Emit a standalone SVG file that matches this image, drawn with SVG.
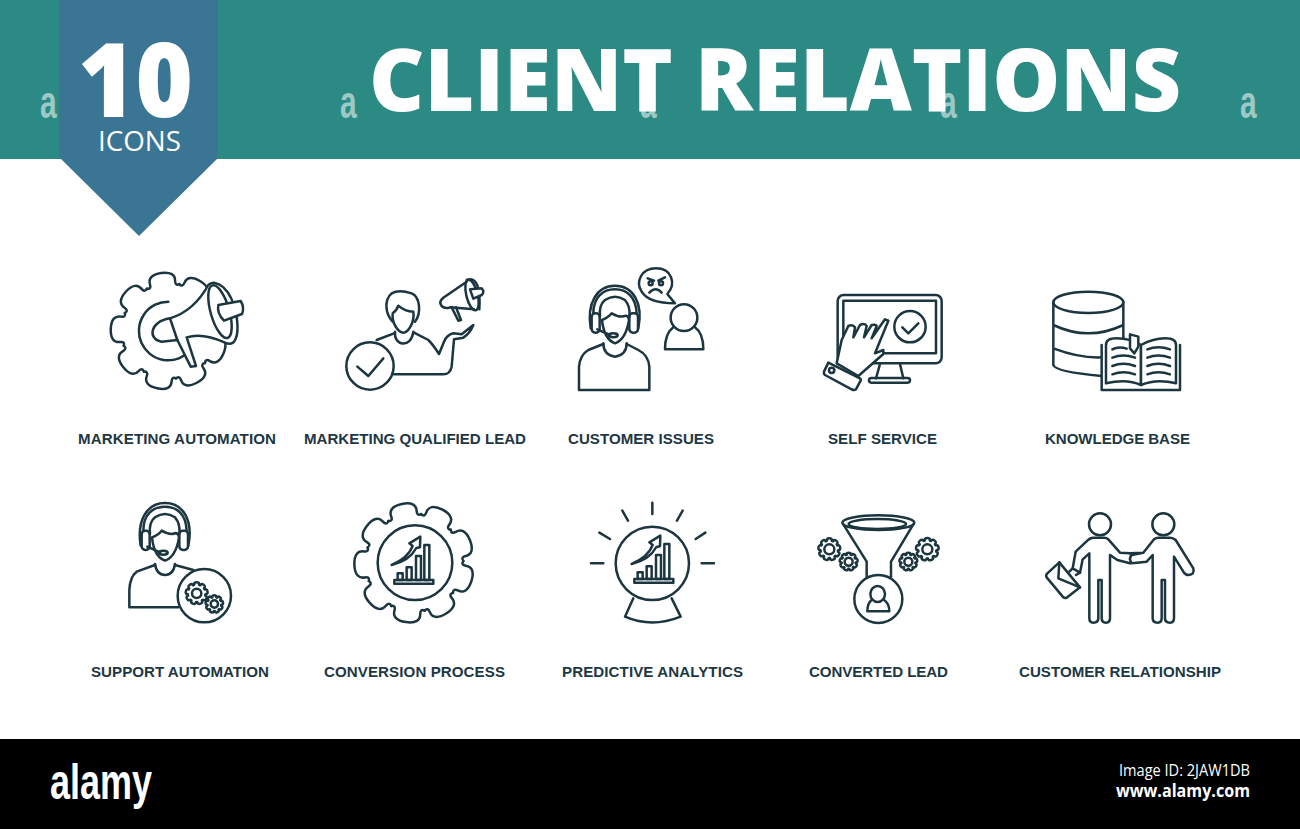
<svg xmlns="http://www.w3.org/2000/svg" xmlns:xlink="http://www.w3.org/1999/xlink" width="1300" height="829" viewBox="0 0 1300 829">
<style>
.i{fill:none;stroke:#1c3640;stroke-width:2.5;stroke-linecap:round;stroke-linejoin:round}
path,circle,ellipse,rect,line{vector-effect:non-scaling-stroke}
.w{fill:#fff}
.l{font:bold 15.1px "Liberation Sans",Arial,sans-serif;fill:#1d3743}
.h{font-family:"Open Sans",sans-serif;fill:#fff}
.m{font:bold 30px "Liberation Sans",sans-serif;fill:#9cc9c5}
</style>
<defs>
<path id="tooth" d="M-16.8,-46.1C-13.500,-45 -12.500,-47 -13,-50C-14,-56 -10,-60 0,-60C10,-60 14,-56 13,-50C12.500,-47 13.500,-45 16.800,-46.100"/>
<g id="gear">
<use href="#tooth"/><use href="#tooth" transform="rotate(40)"/><use href="#tooth" transform="rotate(80)"/><use href="#tooth" transform="rotate(120)"/><use href="#tooth" transform="rotate(160)"/><use href="#tooth" transform="rotate(200)"/><use href="#tooth" transform="rotate(240)"/><use href="#tooth" transform="rotate(280)"/><use href="#tooth" transform="rotate(320)"/>
</g>
<g id="chart">
<rect x="863" y="250" width="15" height="20"/><rect x="890" y="232" width="15" height="38"/><rect x="918" y="198" width="15" height="72"/><rect x="943" y="165" width="15" height="105"/>
<rect x="853" y="270" width="117" height="11"/>
<path d="M845,225C880,210 900,190 908,168L898,160L931,140L930,172L919,174C905,200 880,217 845,225Z"/>
</g>
<g id="agent">
<path d="M92,235C80,160 110,107 165,107C220,107 250,160 235,235"/>
<path d="M100,190C100,140 130,118 165,118C200,118 228,140 230,190"/>
<rect x="95" y="190" width="24" height="58" rx="11"/><rect x="208" y="190" width="26" height="58" rx="11"/>
<path d="M120,200Q116,165 135,150Q165,130 195,150Q212,170 208,200"/>
<path d="M126,210Q145,203 155,190Q180,205 198,197Q207,200 207,210Q198,268 165,280Q132,268 126,210Z"/>
<path d="M112,238L150,255"/><ellipse cx="160" cy="256" rx="13" ry="6"/>
</g>
</defs>
<rect width="1300" height="829" fill="#fff"/>
<g id="header">
<rect width="1300" height="159" fill="#2b8a84"/>
<text class="m" transform="translate(40 118) scale(1 1.55)">a</text>
<text class="m" transform="translate(340 118) scale(1 1.55)">a</text>
<text class="m" transform="translate(640 118) scale(1 1.55)">a</text>
<text class="m" transform="translate(940 118) scale(1 1.55)">a</text>
<text class="m" transform="translate(1240 118) scale(1 1.55)">a</text>
<text class="h" x="369" y="111" font-size="87" font-weight="800" textLength="812" lengthAdjust="spacingAndGlyphs">CLIENT RELATIONS</text>
</g>
<g id="badge">
<path d="M59,0H218V158L139,236L59,157Z" fill="#3a7594"/>
<text class="h" x="78" y="117" font-size="103" font-weight="800" textLength="115" lengthAdjust="spacingAndGlyphs">10</text>
<text class="h" x="98" y="151" font-size="27" textLength="83" lengthAdjust="spacingAndGlyphs">ICONS</text>
</g>

<g id="marketing-automation">
<g class="i" transform="translate(90 250) scale(.33333)">
<use href="#gear" transform="translate(238 243) scale(2.93) rotate(-8)"/>
<path d="M235,155A88,88 0 1 0 300,302"/>
<path class="w" d="M240,205C290,190 330,150 355,105C375,85 425,110 440,200C450,270 430,290 405,278C370,262 330,250 290,262L318,348L302,350L262,270L215,275C175,270 175,215 240,205Z"/>
<path d="M240,205L262,270"/>
<ellipse cx="390" cy="185" rx="28" ry="82" transform="rotate(-16 390 185)"/>
<path class="w" d="M385,165L452,153Q464,172 456,192L402,212Q380,190 385,165Z"/>
</g>
<text class="l" x="78" y="444" textLength="198">MARKETING AUTOMATION</text>
</g>

<g id="marketing-qualified-lead">
<g class="i" transform="translate(90 250) scale(.33333)">
<path d="M908,215C885,190 882,150 905,130C925,118 950,125 965,130C990,140 995,190 975,215"/>
<path d="M908,190Q920,182 925,167Q945,185 970,185C975,215 955,248 940,248C925,248 905,220 908,190Z"/>
<path d="M915,245C910,290 965,295 970,245"/>
<path d="M860,270L912,250M972,248L1015,270Q1030,285 1047,312L1062,275Q1070,255 1090,250L1115,253L1150,225Q1140,250 1120,263L1092,268L1085,350Q1080,373 1060,373L912,373"/>
<circle cx="840" cy="348" r="71"/>
<path d="M802,350L835,378L880,325"/>
<path d="M1130,95L1060,143Q1045,155 1055,168Q1065,178 1080,172L1152,178"/>
<path d="M1085,172L1105,212L1113,210L1098,172"/>
<ellipse cx="1146" cy="135" rx="17" ry="47" transform="rotate(-14 1146 135)"/>
<path d="M1130,90C1160,78 1172,115 1168,178"/>
<path class="w" d="M1140,118L1175,115Q1185,125 1175,135L1150,146Z"/>
</g>
<text class="l" x="304" y="444" textLength="222">MARKETING QUALIFIED LEAD</text>
</g>

<g id="customer-issues">
<g class="i" transform="translate(560 250) scale(.33333)">
<use href="#agent"/>
<path d="M130,282L85,300Q60,315 57,350L57,420L268,420L268,350Q265,315 235,300L200,282"/>
<path d="M130,280Q130,315 165,320Q200,315 200,280"/>
<path d="M345,160L322,132C350,100 335,55 288,55C245,55 225,95 245,125C260,150 300,160 345,160Z"/>
<circle cx="272" cy="100" r="6"/><circle cx="303" cy="100" r="6"/>
<path d="M263,85L282,92M315,82L295,92M268,128Q287,108 305,128"/>
<circle cx="372" cy="203" r="40"/>
<path d="M340,232Q315,250 315,298L430,298Q430,250 405,232"/>
</g>
<text class="l" x="568" y="444" textLength="146">CUSTOMER ISSUES</text>
</g>

<g id="self-service">
<g class="i" transform="translate(560 250) scale(.33333)">
<rect x="833" y="135" width="312" height="205" rx="18"/>
<rect x="850" y="152" width="278" height="158"/>
<circle cx="1050" cy="230" r="47"/>
<path d="M1027,232L1045,250L1075,220"/>
<path d="M960,342L948,385M1020,342L1030,385"/>
<rect x="927" y="384" width="123" height="14" rx="7"/>
<path class="w" d="M830,340L845,270L865,228Q878,222 885,232L880,262L900,225Q915,218 920,228L912,262L935,225Q948,222 950,228L935,265L975,208L985,212L945,310L970,300L970,312L895,378Z"/>
<path class="w" d="M805,338L900,385Q905,390 900,395L888,418Q882,422 875,418L795,375Q790,370 792,365Z"/>
<circle cx="815" cy="361" r="8"/>
</g>
<text class="l" x="828" y="444" textLength="109">SELF SERVICE</text>
</g>

<g id="knowledge-base">
<g class="i" transform="translate(1030 270) scale(.33333)">
<ellipse cx="175" cy="97" rx="105" ry="32"/>
<path d="M70,97V285Q75,305 215,318M280,97V205M70,165Q175,215 280,165M70,235Q150,265 215,262"/>
<path class="w" d="M215,225V360H450V225"/>
<path class="w" d="M228,340V225Q228,205 260,205Q300,205 333,225V345Q290,325 228,340Z"/>
<path class="w" d="M333,225Q370,205 405,205Q438,205 438,225V340Q380,325 333,345Z"/>
<path class="w" d="M300,193L325,200V230L313,250L300,235Z"/>
<path d="M247,238Q265,228 290,236M247,263Q280,250 315,263M247,288Q280,275 315,288M247,313Q280,300 315,313M352,238Q385,225 420,238M352,263Q385,250 420,263M352,288Q385,275 420,288M352,313Q385,300 420,313"/>
</g>
<text class="l" x="1045" y="444" textLength="145">KNOWLEDGE BASE</text>
</g>

<g id="support-automation">
<g class="i" transform="translate(110 490) scale(.33333)">
<use href="#agent" transform="translate(0 -68)"/>
<path d="M135,225L80,245Q60,260 58,300L58,352L205,352M195,225L250,240"/>
<path d="M135,222Q140,255 165,255Q190,255 195,222"/>
<circle cx="283" cy="317" r="80"/>
<use href="#gear" transform="translate(260 310) scale(.55)"/><circle cx="260" cy="310" r="14"/>
<use href="#gear" transform="translate(313 342) scale(.44)"/><circle cx="313" cy="342" r="11"/>
</g>
<text class="l" x="91" y="677" textLength="178">SUPPORT AUTOMATION</text>
</g>

<g id="conversion-process">
<g class="i" transform="translate(110 490) scale(.33333)">
<use href="#gear" transform="translate(913 218) scale(3) rotate(-12)"/>
<circle cx="915" cy="218" r="112"/>
<use href="#chart"/>
</g>
<text class="l" x="324" y="677" textLength="181">CONVERSION PROCESS</text>
</g>

<g id="predictive-analytics">
<g class="i" transform="translate(580 490) scale(.33333)">
<circle cx="217" cy="220" r="110"/>
<use href="#chart" transform="translate(-690 -3)"/>
<path d="M217,38V72M127,62L144,92M308,62L291,92M58,128L90,147M376,128L347,147M33,220H70M365,220H402"/>
<path d="M160,325L135,380Q215,415 302,380L275,325"/>
</g>
<text class="l" x="562" y="677" textLength="181">PREDICTIVE ANALYTICS</text>
</g>

<g id="converted-lead">
<g class="i" transform="translate(580 490) scale(.33333)">
<ellipse cx="895" cy="98" rx="108" ry="22"/>
<ellipse cx="892" cy="102" rx="86" ry="15"/>
<path d="M790,103L860,215V260M1000,103L933,215V260"/>
<circle cx="895" cy="327" r="72"/>
<ellipse cx="893" cy="312" rx="22" ry="24"/>
<path d="M875,330Q862,340 862,364H928Q928,340 912,330"/>
<use href="#gear" transform="translate(748 178) scale(.55)"/><circle cx="748" cy="178" r="15"/>
<use href="#gear" transform="translate(806 215) scale(.45)"/><circle cx="806" cy="215" r="12"/>
<use href="#gear" transform="translate(985 215) scale(.45)"/><circle cx="985" cy="215" r="12"/>
<use href="#gear" transform="translate(1042 178) scale(.57)"/><circle cx="1042" cy="178" r="15"/>
</g>
<text class="l" x="809" y="677" textLength="139">CONVERTED LEAD</text>
</g>

<g id="customer-relationship">
<g class="i" transform="translate(1030 500) scale(.33333)">
<circle cx="210" cy="73" r="33"/><circle cx="400" cy="73" r="33"/>
<path d="M300,160L270,158L235,118Q230,113 222,113H190Q180,113 172,122L137,155L128,205M150,218L158,178L178,160V355Q178,368 190,368Q205,368 205,355V240H215V355Q215,368 228,368Q240,368 240,355V165L262,180L300,190"/>
<path d="M300,160L340,158L372,118Q378,113 385,113H420Q430,113 437,120L490,205Q495,225 475,225Q467,225 460,215L432,170V355Q432,368 420,368Q405,368 405,355V240H395V355Q395,368 383,368Q368,368 368,355V165L350,185L305,190Q295,175 305,165L340,158"/>
<path d="M88,187L150,262L110,293Q105,296 100,292L50,232Q46,226 52,220Z"/>
<path d="M88,187L85,235L150,262"/>
<path d="M118,215L128,205L150,218L138,225"/>
</g>
<text class="l" x="1019" y="677" textLength="202">CUSTOMER RELATIONSHIP</text>
</g>

<g id="footer">
<rect y="739" width="1300" height="90" fill="#000"/>
<text x="50" y="799" font-family="Liberation Sans,sans-serif" font-weight="700" font-size="50" fill="#fff" textLength="102" lengthAdjust="spacingAndGlyphs">alamy</text>
<text x="1119" y="776" font-family="Open Sans,sans-serif" font-size="16" fill="#fff" textLength="131" lengthAdjust="spacingAndGlyphs">Image ID: 2JAW1DB</text>
<text x="1116" y="797" font-family="Open Sans,sans-serif" font-weight="700" font-size="18" fill="#fff" textLength="134" lengthAdjust="spacingAndGlyphs">www.alamy.com</text>
</g>
</svg>
